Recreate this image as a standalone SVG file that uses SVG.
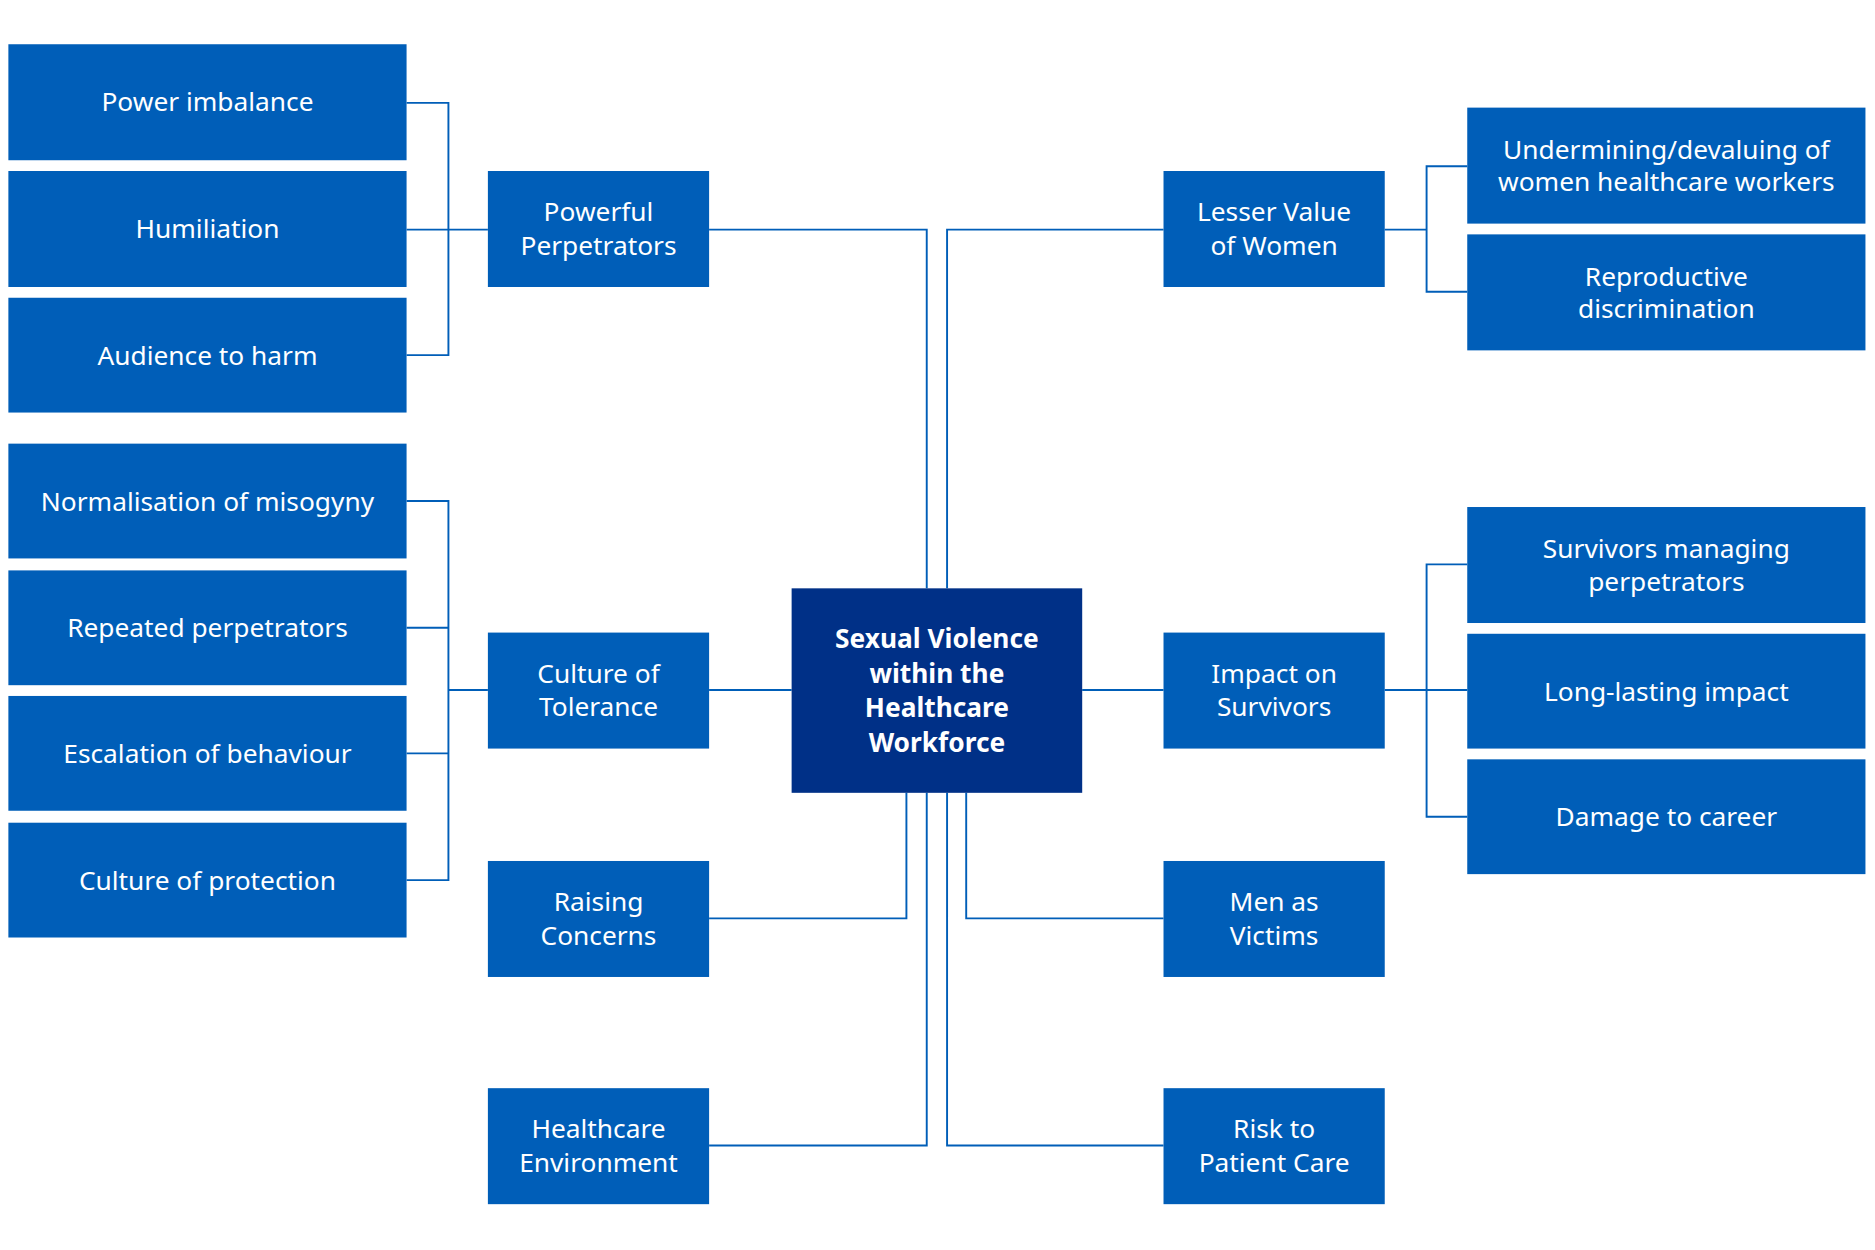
<svg xmlns="http://www.w3.org/2000/svg" width="1875" height="1250" viewBox="0 0 1875 1250">
<style>
.b{fill:#005EB8}
.c{fill:#003087}
text{font-family:"Noto Sans","Open Sans",sans-serif;font-size:22px;fill:#fff;text-anchor:middle}
.t{font-weight:bold}
#conn path{fill:none;stroke:#005EB8;stroke-width:1.6}
</style>
<rect width="1875" height="1250" fill="#fff"/>
<g transform="scale(1.1958)">
<g id="conn">
<path d="M340 86H375V297H340M340 192H408"/>
<path d="M340 419H375V736H340M340 525H375M340 630H375M375 577H408"/>
<path d="M593 192H775V492M593 577H662M593 768H758V663M593 958H775V663"/>
<path d="M973 192H792V492M905 577H973M973 768H808V663M973 958H792V663"/>
<path d="M1158 192H1193M1227 139H1193V244H1227"/>
<path d="M1158 577H1227M1227 472H1193V683H1227"/>
</g>
<g id="n1"><rect class="b" x="7" y="37" width="333" height="97"/><text x="173.5" y="93">Power imbalance</text></g>
<g id="n2"><rect class="b" x="7" y="143" width="333" height="97"/><text x="173.5" y="199">Humiliation</text></g>
<g id="n3"><rect class="b" x="7" y="249" width="333" height="96"/><text x="173.5" y="305">Audience to harm</text></g>
<g id="n4"><rect class="b" x="7" y="371" width="333" height="96"/><text x="173.5" y="427">Normalisation of misogyny</text></g>
<g id="n5"><rect class="b" x="7" y="477" width="333" height="96"/><text x="173.5" y="533">Repeated perpetrators</text></g>
<g id="n6"><rect class="b" x="7" y="582" width="333" height="96"/><text x="173.5" y="638">Escalation of behaviour</text></g>
<g id="n7"><rect class="b" x="7" y="688" width="333" height="96"/><text x="173.5" y="744">Culture of protection</text></g>
<g id="m1"><rect class="b" x="408" y="143" width="185" height="97"/><text x="500.5" y="185">Powerful</text><text x="500.5" y="213">Perpetrators</text></g>
<g id="m2"><rect class="b" x="408" y="529" width="185" height="97"/><text x="500.5" y="571">Culture of</text><text x="500.5" y="599">Tolerance</text></g>
<g id="m3"><rect class="b" x="408" y="720" width="185" height="97"/><text x="500.5" y="762">Raising</text><text x="500.5" y="790">Concerns</text></g>
<g id="m4"><rect class="b" x="408" y="910" width="185" height="97"/><text x="500.5" y="952">Healthcare</text><text x="500.5" y="980">Environment</text></g>
<g id="center"><rect class="c" x="662" y="492" width="243" height="171"/><text class="t" x="783.5" y="542">Sexual Violence</text><text class="t" x="783.5" y="571">within the</text><text class="t" x="783.5" y="600">Healthcare</text><text class="t" x="783.5" y="629">Workforce</text></g>
<g id="r1"><rect class="b" x="973" y="143" width="185" height="97"/><text x="1065.5" y="185">Lesser Value</text><text x="1065.5" y="213">of Women</text></g>
<g id="r2"><rect class="b" x="973" y="529" width="185" height="97"/><text x="1065.5" y="571">Impact on</text><text x="1065.5" y="599">Survivors</text></g>
<g id="r3"><rect class="b" x="973" y="720" width="185" height="97"/><text x="1065.5" y="762">Men as</text><text x="1065.5" y="790">Victims</text></g>
<g id="r4"><rect class="b" x="973" y="910" width="185" height="97"/><text x="1065.5" y="952">Risk to</text><text x="1065.5" y="980">Patient Care</text></g>
<g id="s1"><rect class="b" x="1227" y="90" width="333" height="97"/><text x="1393.5" y="133">Undermining/devaluing of</text><text x="1393.5" y="160">women healthcare workers</text></g>
<g id="s2"><rect class="b" x="1227" y="196" width="333" height="97"/><text x="1393.5" y="239">Reproductive</text><text x="1393.5" y="266">discrimination</text></g>
<g id="s3"><rect class="b" x="1227" y="424" width="333" height="97"/><text x="1393.5" y="467">Survivors managing</text><text x="1393.5" y="494">perpetrators</text></g>
<g id="s4"><rect class="b" x="1227" y="530" width="333" height="96"/><text x="1393.5" y="586">Long-lasting impact</text></g>
<g id="s5"><rect class="b" x="1227" y="635" width="333" height="96"/><text x="1393.5" y="691">Damage to career</text></g>
</g>
</svg>
